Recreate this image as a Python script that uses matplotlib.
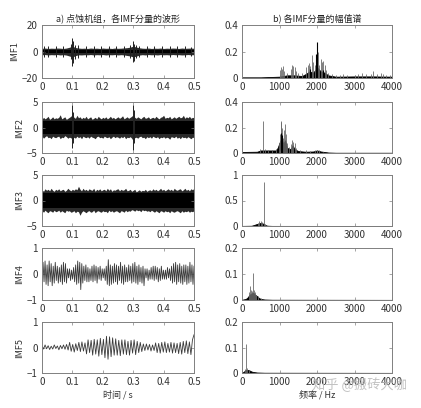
import numpy as np
import matplotlib.pyplot as plt

plt.rcParams['font.family'] = ['Noto Sans CJK SC', 'DejaVu Sans']

# ---------------------------
# Data
# ---------------------------
titles = ["a) 点蚀机组，各IMF分量的波形", "b) 各IMF分量的幅值谱"]
imf_names = ["IMF1", "IMF2", "IMF3", "IMF4", "IMF5"]
wave_ylims = [(-20, 20), (-5, 5), (-5, 5), (-1, 1), (-1, 1)]
wave_yticks = [[-20, 0, 20], [-5, 0, 5], [-5, 0, 5], [-1, 0, 1], [-1, 0, 1]]
spec_ylims = [(0, 0.4), (0, 0.4), (0, 1), (0, 0.2), (0, 0.2)]
spec_yticks = [[0, 0.2, 0.4], [0, 0.2, 0.4], [0, 0.5, 1], [0, 0.1, 0.2], [0, 0.1, 0.2]]
time_ticks = [0, 0.1, 0.2, 0.3, 0.4, 0.5]
freq_ticks = [0, 1000, 2000, 3000, 4000]

# IMF1 waveform: envelope every 0.01 s + impulse spikes
imf1_up = [2.4, 2.6, 2.3, 2.5, 2.4, 2.6, 2.5, 2.3, 2.6, 3.2, 4.0, 3.0, 2.6, 2.4, 2.5, 2.3, 2.6,
           2.4, 2.5, 2.3, 2.6, 2.4, 2.5, 2.3, 2.6, 2.4, 2.5, 2.7, 2.9, 3.3, 4.0, 3.4, 2.8, 2.5,
           2.4, 2.6, 2.3, 2.5, 2.4, 2.6, 2.3, 2.5, 2.4, 2.6, 2.5, 2.3, 2.6, 2.4, 2.5, 2.6, 2.4]
imf1_dn = [-2.5, -2.3, -2.6, -2.4, -2.5, -2.3, -2.6, -2.4, -2.7, -3.4, -4.2, -3.1, -2.5, -2.6,
           -2.4, -2.5, -2.3, -2.6, -2.4, -2.5, -2.3, -2.6, -2.4, -2.5, -2.3, -2.6, -2.4, -2.6,
           -3.0, -3.4, -4.1, -3.5, -2.7, -2.4, -2.6, -2.3, -2.5, -2.4, -2.6, -2.3, -2.5, -2.4,
           -2.6, -2.3, -2.5, -2.4, -2.6, -2.5, -2.3, -2.5, -2.4]
imf1_spike_t = [0.008, 0.02, 0.045, 0.07, 0.095, 0.1, 0.103, 0.107, 0.12, 0.145, 0.17, 0.195,
                0.22, 0.245, 0.27, 0.29, 0.3, 0.303, 0.31, 0.32, 0.345, 0.37, 0.395, 0.42,
                0.445, 0.47, 0.49]
imf1_spike_up = [4, 4.5, 4, 4.5, 6, 10, 8, 5, 5, 4.5, 4, 4, 4.5, 4, 4, 5, 8, 6, 5, 4, 4.5, 4,
                 4.5, 4, 4, 4, 3.5]
imf1_spike_dn = [-4, -4, -4.5, -4, -6, -11, -9, -6, -5, -4, -4, -4.5, -4, -4, -4, -5, -8, -7,
                 -5, -4, -4, -4.5, -4, -4, -4.5, -4, -3.5]
imf1_core = 1.3

# IMF2 waveform: envelope every 0.005 s + spikes
imf2_up = [1.6, 2.0, 1.7, 1.9, 2.2, 1.6, 1.8, 2.1, 1.7, 1.9,
           1.8, 2.0, 2.5, 1.7, 1.9, 2.1, 1.6, 1.8, 2.0, 2.2,
           2.6, 2.0, 1.8, 2.4, 1.9, 2.1, 1.7, 2.0, 1.8, 2.2,
           1.7, 1.9, 2.1, 1.6, 1.8, 2.0, 1.7, 2.2, 1.9, 1.7,
           2.0, 1.8, 2.1, 1.7, 1.9, 2.2, 1.8, 2.0, 1.7, 1.9,
           2.1, 1.8, 2.0, 2.3, 1.7, 1.9, 2.1, 1.8, 2.0, 2.2,
           2.5, 2.0, 1.8, 2.1, 1.9, 1.7, 2.0, 2.2, 1.8, 1.9,
           2.1, 1.7, 1.9, 2.0, 1.8, 2.2, 1.9, 1.7, 2.0, 2.1,
           2.4, 1.8, 2.0, 1.9, 2.2, 1.7, 1.9, 2.1, 1.8, 2.0,
           2.2, 1.9, 2.0, 2.4, 1.8, 2.1, 1.9, 2.2, 1.8, 2.0, 1.9]
imf2_dn = [-1.7, -2.1, -1.8, -1.6, -2.0, -1.9, -2.2, -1.7, -1.9, -2.0,
           -1.8, -1.7, -2.2, -1.9, -2.0, -1.6, -1.8, -2.1, -1.9, -2.0,
           -2.4, -1.9, -2.1, -1.7, -2.0, -1.8, -2.2, -1.7, -1.9, -2.0,
           -1.8, -2.1, -1.7, -1.9, -2.0, -2.2, -1.8, -1.7, -2.0, -1.9,
           -2.1, -1.7, -1.9, -2.0, -1.8, -2.2, -1.9, -1.7, -2.0, -1.8,
           -1.9, -2.1, -1.8, -2.0, -1.7, -2.2, -1.9, -2.0, -1.8, -2.1,
           -2.6, -2.0, -1.9, -2.1, -1.8, -1.7, -2.0, -1.9, -2.2, -1.8,
           -2.0, -1.8, -2.1, -1.7, -1.9, -2.0, -1.8, -2.2, -1.9, -2.0,
           -1.8, -2.1, -1.9, -2.0, -2.3, -1.8, -1.9, -2.0, -1.7, -2.1,
           -1.9, -2.2, -1.8, -2.0, -1.9, -2.1, -1.8, -2.0, -2.2, -1.9, -2.0]
imf2_spike_t = [0.1, 0.101, 0.3, 0.301]
imf2_spike_up = [4.5, 3.0, 4.5, 3.5]
imf2_spike_dn = [-4.0, -3.0, -4.5, -3.0]
imf2_core = 1.2

# IMF3 waveform: envelope every 0.005 s
imf3_up = [2.1, 1.8, 2.3, 2.0, 2.2, 1.9, 2.4, 2.0, 1.8, 2.2,
           2.0, 2.3, 1.9, 2.1, 2.2, 1.8, 2.0, 2.4, 2.1, 1.9,
           2.2, 2.0, 2.3, 2.1, 2.8, 2.2, 1.9, 2.4, 2.0, 2.2,
           1.9, 2.3, 2.1, 2.0, 2.4, 1.8, 2.2, 2.0, 2.3, 1.9,
           2.1, 2.2, 1.9, 2.4, 2.0, 2.3, 1.8, 2.1, 2.0, 2.2,
           2.3, 1.9, 2.2, 2.0, 2.1, 2.4, 1.9, 2.0, 2.2, 1.8,
           2.0, 2.2, 1.7, 1.9, 2.1, 1.8, 2.0, 1.9, 2.2, 1.8,
           2.0, 2.1, 1.9, 2.3, 2.0, 2.2, 1.9, 2.1, 2.4, 2.0,
           2.2, 1.9, 2.1, 2.3, 2.0, 2.2, 1.9, 2.4, 2.1, 2.0,
           2.2, 2.3, 1.9, 2.1, 2.4, 2.0, 2.2, 1.9, 2.3, 2.1, 2.4]
imf3_dn = [-2.0, -2.3, -1.9, -2.2, -2.4, -2.0, -2.1, -2.3, -1.9, -2.2,
           -2.1, -1.9, -2.3, -2.0, -2.2, -2.4, -1.9, -2.1, -2.0, -2.3,
           -2.2, -2.0, -2.4, -2.1, -2.2, -2.9, -2.3, -2.0, -2.2, -2.4,
           -2.1, -2.0, -2.3, -2.2, -1.9, -2.4, -2.1, -2.0, -2.2, -2.3,
           -2.0, -2.2, -2.1, -2.4, -1.9, -2.2, -2.0, -2.3, -2.1, -2.0,
           -2.2, -2.4, -2.0, -2.1, -2.3, -1.9, -2.2, -2.0, -2.1, -1.8,
           -1.9, -2.1, -1.8, -2.0, -1.9, -2.2, -1.8, -2.0, -1.9, -2.1,
           -2.0, -2.2, -1.9, -2.1, -2.3, -2.0, -2.2, -2.4, -2.0, -2.1,
           -2.3, -2.0, -2.2, -2.1, -2.4, -2.0, -2.2, -2.3, -2.1, -2.0,
           -2.2, -2.4, -2.0, -2.3, -2.1, -2.2, -2.0, -2.3, -2.1, -2.2, -2.0]
imf3_core = 1.5

# IMF4 waveform: successive extremes
imf4_vals = [-0.5, 0.45, -0.3, 0.5, -0.4, 0.35, -0.45, 0.5, -0.3, 0.4,
             -0.45, 0.3, -0.35, 0.45, -0.25, 0.3, -0.35, 0.25, -0.3, 0.35,
             -0.4, 0.45, -0.3, 0.4, -0.35, 0.2, -0.15, 0.2, -0.25, 0.15,
             -0.2, 0.25, -0.3, 0.35, -0.4, 0.5, -0.35, 0.45, -0.6, 0.4,
             -0.35, 0.3, -0.25, 0.35, -0.3, 0.25, -0.3, 0.2, -0.25, 0.3,
             -0.3, 0.35, -0.25, 0.3, -0.35, 0.25, -0.2, 0.3, -0.25, 0.2,
             -0.15, 0.2, -0.25, 0.3, -0.4, 0.55, -0.45, 0.35, -0.4, 0.3,
             -0.35, 0.4, -0.3, 0.35, -0.4, 0.3, -0.25, 0.45, -0.35, 0.3,
             -0.4, 0.35, -0.3, 0.25, -0.3, 0.35, -0.25, 0.3, -0.35, 0.4,
             -0.3, 0.45, -0.35, 0.3, -0.4, 0.35, -0.3, 0.25, -0.35, 0.3,
             -0.45, 0.2, -0.15, 0.2, -0.25, 0.15, -0.2, 0.25, -0.2, 0.3,
             -0.25, 0.3, -0.2, 0.25, -0.3, 0.2, -0.25, 0.3, -0.2, 0.15,
             -0.2, 0.15, -0.2, 0.25, -0.15, 0.2, -0.25, 0.3, -0.35, 0.4,
             -0.3, 0.45, -0.4, 0.35, -0.3, 0.4, -0.35, 0.3, -0.4, 0.35,
             -0.3, 0.35, -0.4, 0.3, -0.35, 0.45, -0.3, 0.35, -0.4, 0.3]

# IMF5 waveform: successive extremes
imf5_vals = [0.08, -0.06, 0.1, -0.05, 0.07, -0.08, 0.05, -0.06, 0.1, -0.04, 0.06, -0.09, 0.08,
             -0.05, 0.1, -0.07, 0.12,
             -0.1, 0.2, -0.15, 0.12, -0.18, 0.15, -0.12, 0.2, -0.16, 0.22, -0.14, 0.18,
             -0.25, 0.3, -0.2, 0.28, -0.3, 0.32, -0.26, 0.3, -0.34, 0.36, -0.28, 0.32,
             -0.4, 0.44, -0.46, 0.42, -0.36, 0.38, -0.3,
             0.34, -0.3, 0.28, -0.32, 0.3, -0.26, 0.3, -0.28, 0.24, -0.3, 0.28, -0.22, 0.3,
             -0.28, 0.24, -0.2, 0.2, -0.16, 0.14,
             -0.12, 0.14, -0.1, 0.12, -0.14, 0.1, -0.12, 0.18,
             -0.2, 0.16, -0.22, 0.2, -0.18, 0.22, -0.2, 0.16, -0.18, 0.2, -0.22, 0.18, -0.2,
             0.16, -0.24, 0.2,
             -0.26, 0.24, -0.2, 0.26, -0.24, 0.22, -0.28, 0.3, 0.5]

# Spectra: dense (black) part as an outline, plus single lines (grey / black)
spec1_f = [0, 500, 1000, 1200, 1400, 1600, 1700, 1800, 1900, 2000, 2100, 2200, 2300, 2500, 3000, 3500, 4000]
spec1_a = [0.005, 0.005, 0.01, 0.02, 0.02, 0.015, 0.03, 0.05, 0.04, 0.08, 0.05, 0.04, 0.02, 0.01, 0.012, 0.012, 0.01]
spec1_pf = [1000, 1030, 1060, 1100, 1130, 1200, 1300, 1340, 1370, 1400, 1450, 1500, 1600, 1700, 1750,
            1780, 1820, 1860, 1900, 1950, 2020, 2060, 2100, 2130, 2170, 2200, 2250, 2300, 2400,
            2500, 2600, 2700, 2800, 3000, 3100, 3200, 3300, 3450, 3500, 3600, 3700, 3750, 3850, 3950]
spec1_pa = [0.06, 0.08, 0.07, 0.09, 0.05, 0.04, 0.07, 0.1, 0.09, 0.08, 0.05, 0.04, 0.04, 0.08, 0.1,
            0.11, 0.09, 0.17, 0.12, 0.1, 0.2, 0.1, 0.14, 0.12, 0.13, 0.1, 0.06, 0.04, 0.03,
            0.025, 0.02, 0.03, 0.02, 0.02, 0.03, 0.04, 0.03, 0.03, 0.05, 0.03, 0.04, 0.03, 0.02, 0.02]
spec1_bf = [1800, 1980, 2000, 2150]
spec1_ba = [0.07, 0.18, 0.27, 0.06]

spec2_f = [0, 400, 500, 900, 950, 1000, 1050, 1100, 1150, 1200, 1300, 1350, 1400, 1500, 1700, 1900,
           2000, 2100, 2300, 2500, 4000]
spec2_a = [0.008, 0.01, 0.02, 0.02, 0.04, 0.08, 0.12, 0.07, 0.1, 0.04, 0.03, 0.06, 0.03, 0.015,
           0.01, 0.012, 0.02, 0.012, 0.004, 0.002, 0.002]
spec2_pf = [560, 480, 600, 700, 800, 900, 980, 1000, 1030, 1050, 1070, 1100, 1130, 1150, 1170,
            1200, 1250, 1300, 1340, 1370, 1400, 1450, 1550, 1700, 1800, 1950, 2000, 2050, 2150]
spec2_pa = [0.25, 0.03, 0.03, 0.02, 0.02, 0.03, 0.08, 0.15, 0.24, 0.25, 0.2, 0.12, 0.18, 0.23,
            0.15, 0.08, 0.05, 0.07, 0.1, 0.09, 0.08, 0.04, 0.02, 0.02, 0.015, 0.02, 0.025, 0.02, 0.01]
spec2_bf = [1040, 1060]
spec2_ba = [0.16, 0.14]

spec3_f = [0, 250, 300, 400, 450, 500, 550, 600, 650, 700, 800, 4000]
spec3_a = [0.002, 0.005, 0.015, 0.04, 0.05, 0.06, 0.05, 0.03, 0.01, 0.005, 0.002, 0.001]
spec3_pf = [420, 460, 500, 530, 580, 620]
spec3_pa = [0.06, 0.09, 0.1, 0.08, 0.87, 0.03]
spec3_bf = []
spec3_ba = []

spec4_f = [0, 100, 150, 200, 250, 300, 350, 400, 450, 500, 600, 800, 4000]
spec4_a = [0.001, 0.004, 0.01, 0.02, 0.025, 0.028, 0.02, 0.015, 0.008, 0.004, 0.002, 0.001, 0.0005]
spec4_pf = [180, 210, 240, 270, 300, 320, 350, 380, 420, 500]
spec4_pa = [0.03, 0.055, 0.04, 0.035, 0.105, 0.04, 0.03, 0.02, 0.015, 0.008]
spec4_bf = []
spec4_ba = []

spec5_f = [0, 50, 80, 100, 150, 200, 250, 300, 400, 600, 4000]
spec5_a = [0.001, 0.005, 0.01, 0.012, 0.012, 0.01, 0.006, 0.004, 0.002, 0.001, 0.0005]
spec5_pf = [90, 110, 130, 180]
spec5_pa = [0.015, 0.115, 0.02, 0.012]
spec5_bf = []
spec5_ba = []

# ---------------------------
# Layout helpers
# ---------------------------
W, H = 421, 408
row_px = [(25, 78), (102, 153), (175, 226), (248, 300), (322, 373)]
left_px = (42, 194)
right_px = (242, 392)
tick_color = '#333333'
spine_color = '#808080'


def make_axes(fig, xpx, ypx):
    ax = fig.add_axes([xpx[0] / W, 1 - ypx[1] / H, (xpx[1] - xpx[0]) / W, (ypx[1] - ypx[0]) / H])
    for s in ax.spines.values():
        s.set_color(spine_color)
        s.set_linewidth(0.7)
    ax.tick_params(direction='in', length=2, width=0.5, colors=spine_color,
                   labelcolor=tick_color, labelsize=7, pad=3, top=True, right=True)
    return ax


fig = plt.figure(figsize=(W / 100, H / 100), dpi=100)

# ---------------------------
# Left column: waveforms
# ---------------------------
left_axes = [make_axes(fig, left_px, r) for r in row_px]

t1 = np.arange(len(imf1_up)) * 0.01
ax = left_axes[0]
ax.fill_between(t1, imf1_dn, imf1_up, color='#2a2a2a', lw=0)
ax.fill_between([0, 0.5], [-imf1_core, -imf1_core], [imf1_core, imf1_core], color='black', lw=0)
ax.vlines(imf1_spike_t, imf1_spike_dn, imf1_spike_up, color='#222222', lw=0.7)

t2 = np.arange(len(imf2_up)) * 0.005
ax = left_axes[1]
ax.fill_between(t2, imf2_dn, imf2_up, color='#2a2a2a', lw=0)
ax.fill_between([0, 0.5], [-imf2_core, -imf2_core], [imf2_core, imf2_core], color='black', lw=0)
ax.vlines(imf2_spike_t, imf2_spike_dn, imf2_spike_up, color='#222222', lw=0.7)

t3 = np.arange(len(imf3_up)) * 0.005
ax = left_axes[2]
ax.fill_between(t3, imf3_dn, imf3_up, color='#2a2a2a', lw=0)
ax.fill_between([0, 0.5], [-imf3_core, -imf3_core], [imf3_core, imf3_core], color='black', lw=0)

t4 = np.linspace(0, 0.5, len(imf4_vals))
left_axes[3].plot(t4, imf4_vals, color='#3a3a3a', lw=0.6)

t5 = np.linspace(0, 0.5, len(imf5_vals))
left_axes[4].plot(t5, imf5_vals, color='#3a3a3a', lw=0.6)

for i, ax in enumerate(left_axes):
    ax.set_xlim(0, 0.5)
    ax.set_ylim(*wave_ylims[i])
    ax.set_xticks(time_ticks)
    ax.set_xticklabels([f"{v:g}" for v in time_ticks])
    ax.set_yticks(wave_yticks[i])
    ax.set_ylabel(imf_names[i], fontsize=6.5, color=tick_color, labelpad=2)

left_axes[0].set_title(titles[0], fontsize=6.5, color='#222222', pad=3)
left_axes[4].set_xlabel("时间 / s", fontsize=6.5, color=tick_color, labelpad=2)

# ---------------------------
# Right column: amplitude spectra
# ---------------------------
right_axes = [make_axes(fig, right_px, r) for r in row_px]
spectra = [
    (spec1_f, spec1_a, spec1_pf, spec1_pa, spec1_bf, spec1_ba),
    (spec2_f, spec2_a, spec2_pf, spec2_pa, spec2_bf, spec2_ba),
    (spec3_f, spec3_a, spec3_pf, spec3_pa, spec3_bf, spec3_ba),
    (spec4_f, spec4_a, spec4_pf, spec4_pa, spec4_bf, spec4_ba),
    (spec5_f, spec5_a, spec5_pf, spec5_pa, spec5_bf, spec5_ba),
]
for i, ax in enumerate(right_axes):
    f, a, pf, pa, bf, ba = spectra[i]
    ax.vlines(pf, 0, pa, color='#6a6a6a', lw=0.6)
    ax.fill_between(f, 0, a, color='black', lw=0.6, edgecolor='black')
    if bf:
        ax.vlines(bf, 0, ba, color='black', lw=0.8)
    ax.set_xlim(0, 4000)
    ax.set_ylim(*spec_ylims[i])
    ax.set_xticks(freq_ticks)
    ax.set_yticks(spec_yticks[i])
    ax.set_yticklabels([f"{v:g}" for v in spec_yticks[i]])

right_axes[0].set_title(titles[1], fontsize=6.5, color='#222222', pad=3)
right_axes[4].set_xlabel("频率 / Hz", fontsize=6.5, color=tick_color, labelpad=2)

# watermark (over the lower-right tick labels, as in the source)
fig.text(0.855, 0.058, "知乎 @搬砖大咖", fontsize=9.5, color='#b8b8b8', alpha=0.85,
         ha='center', va='center')

fig.savefig("out.png", dpi=100)
